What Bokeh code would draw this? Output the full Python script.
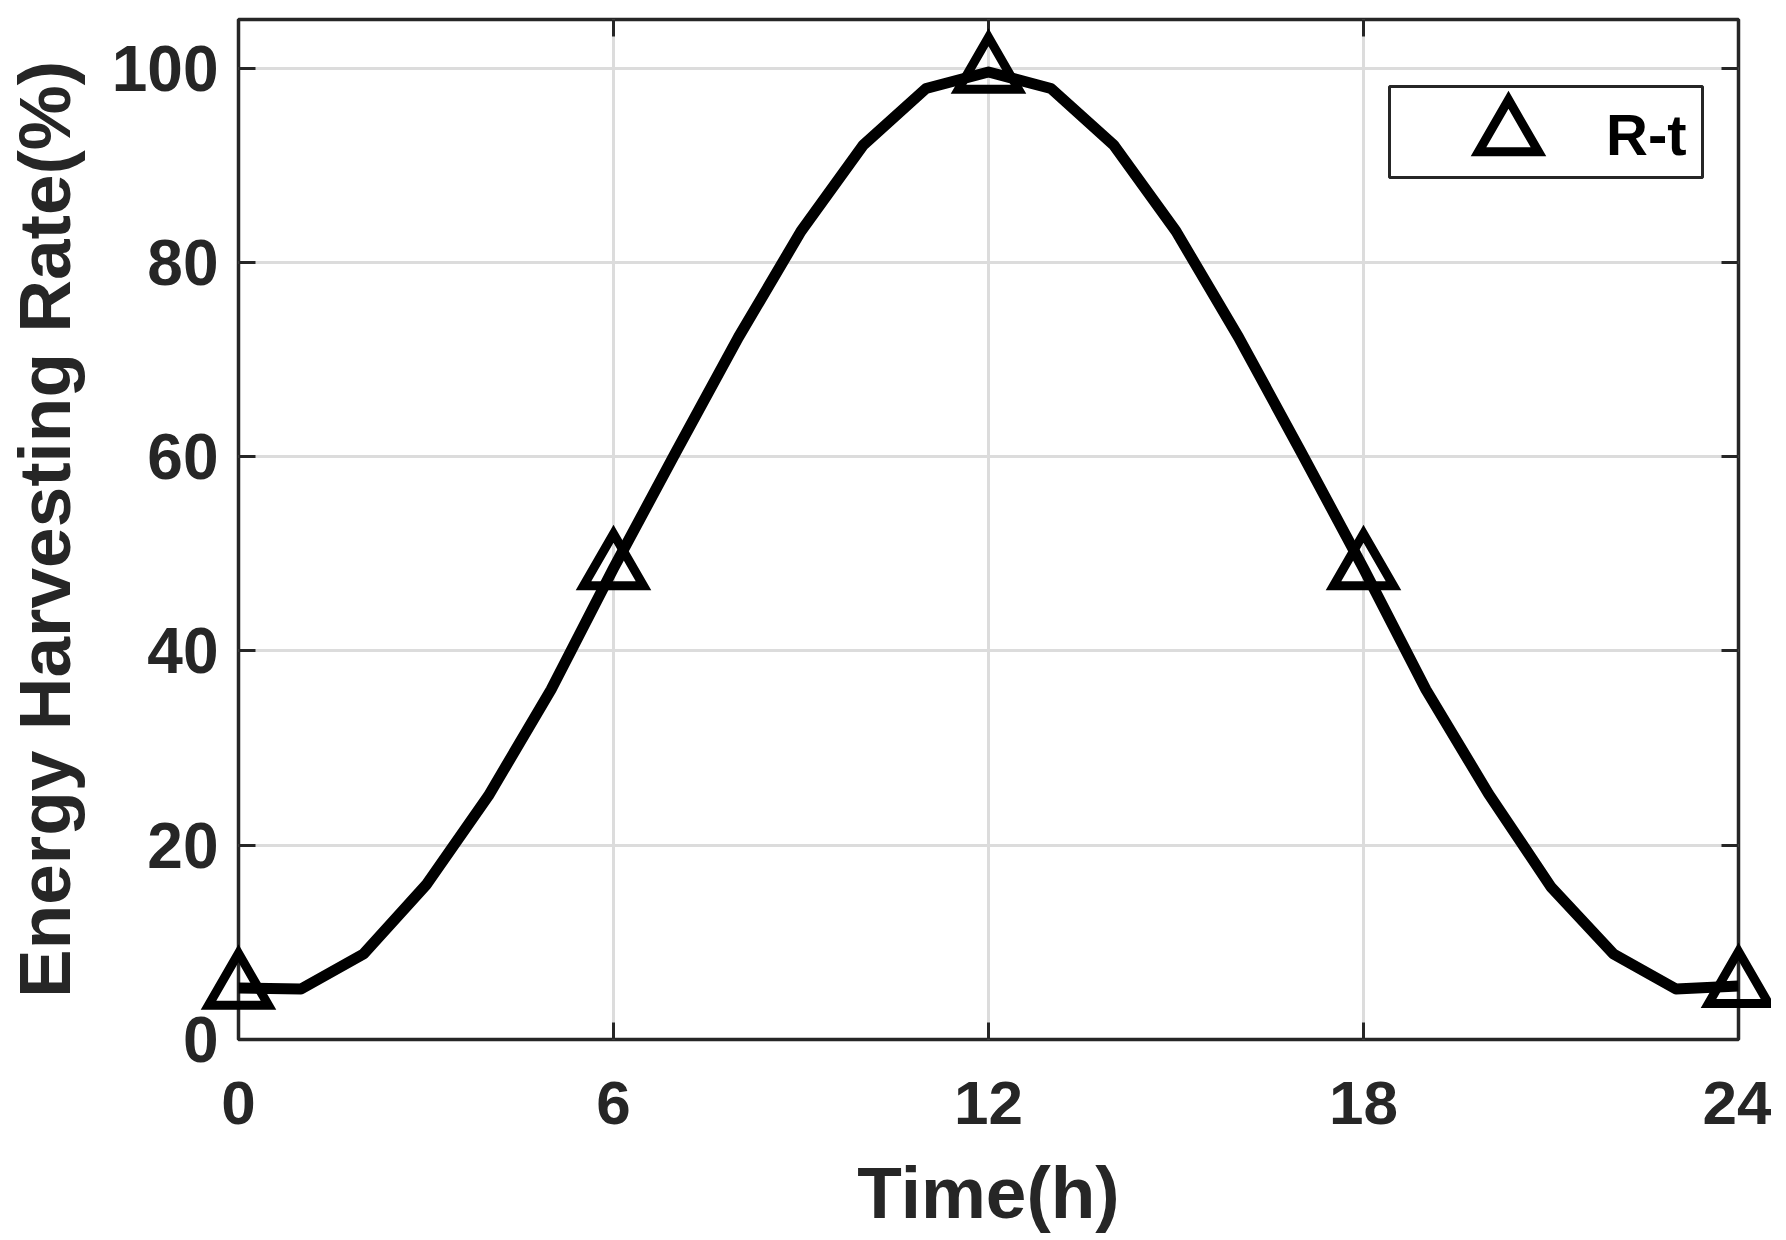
from bokeh.plotting import figure
from bokeh.models import (Range1d, FixedTicker, LinearAxis, Legend, LegendItem,
                          CustomJSTickFormatter, BoxAnnotation)
from bokeh.embed import file_html
from bokeh.resources import INLINE

# ---- data ----
hours = list(range(25))
rate = [5.3, 5.2, 8.8, 15.9, 25.1, 36.0, 48.5, 60.5, 72.3, 83.2, 92.1, 97.9, 99.6,
        97.9, 92.1, 83.2, 72.3, 60.5, 48.5, 36.0, 25.3, 15.7, 8.8, 5.2, 5.5]
marker_step = 6
x_ticks = [0, 6, 12, 18, 24]
y_ticks = [0, 20, 40, 60, 80, 100]
x_label = "Time(h)"
y_label = "Energy Harvesting Rate(%)"
series_name = "R-t"

mk_hours = hours[::marker_step]
mk_rate = rate[::marker_step]

FONT = "Liberation Sans"
DARK = "#262626"

p = figure(frame_width=1500, frame_height=1020,
           x_range=Range1d(0, 24), y_range=Range1d(0, 105),
           output_backend="svg", toolbar_location=None,
           min_border_left=237, min_border_right=33,
           min_border_top=19, min_border_bottom=180,
           background_fill_color="white", border_fill_color="white")

p.outline_line_color = DARK
p.outline_line_width = 3.5
p.outline_line_alpha = 1.0

xt = FixedTicker(ticks=x_ticks)
yt = FixedTicker(ticks=y_ticks)

p.xgrid.ticker = xt
p.ygrid.ticker = yt
for g in (p.xgrid[0], p.ygrid[0]):
    g.grid_line_color = "#dcdcdc"
    g.grid_line_width = 3

def style_axis(ax, ticker, tick_size):
    ax.ticker = ticker
    ax.axis_line_color = None
    ax.major_tick_in = 17
    ax.major_tick_out = 0
    ax.major_tick_line_width = 3
    ax.major_tick_line_color = DARK
    ax.minor_tick_line_color = None
    ax.major_label_text_font = FONT
    ax.major_label_text_font_style = "bold"
    ax.major_label_text_font_size = tick_size
    ax.major_label_text_color = DARK
    ax.axis_label_text_font = FONT
    ax.axis_label_text_font_style = "bold"
    ax.axis_label_text_font_size = "73px"
    ax.axis_label_text_color = DARK

xa = p.xaxis[0]
ya = p.yaxis[0]
style_axis(xa, xt, "62px")
style_axis(ya, yt, "64px")
xa.axis_label = x_label
ya.axis_label = y_label
xa.major_label_standoff = 42
xa.axis_label_standoff = 25
ya.major_label_standoff = 20
ya.axis_label_standoff = 24

for loc, tk in (("right", yt), ("above", xt)):
    ax = LinearAxis(ticker=tk, formatter=CustomJSTickFormatter(code="return ''"))
    ax.axis_line_color = None
    ax.major_tick_in = 17
    ax.major_tick_out = 0
    ax.major_tick_line_width = 3
    ax.major_tick_line_color = DARK
    ax.minor_tick_line_color = None
    ax.major_label_text_font_size = "1px"
    ax.major_label_standoff = 0
    p.add_layout(ax, loc)

p.line(hours, rate, line_color="black", line_width=11, line_join="round")
sc = p.scatter(mk_hours, mk_rate, marker="triangle", size=60,
               fill_color=None, line_color="black", line_width=9,
               line_join="miter", level="overlay")

# legend frame (screen units, relative to the plot frame)
legend_box = BoxAnnotation(left=1151, right=1464, bottom=862, top=953,
                           left_units="screen", right_units="screen",
                           bottom_units="screen", top_units="screen",
                           fill_color="white", fill_alpha=1.0,
                           line_color=DARK, line_width=3, line_alpha=1.0)
p.add_layout(legend_box)

legend = Legend(items=[LegendItem(label=series_name, renderers=[sc])],
                location=(1195, 830), padding=0, spacing=0, margin=0,
                glyph_width=150, glyph_height=150, label_standoff=23,
                label_text_font=FONT,
                label_text_font_style="bold", label_text_font_size="58px",
                label_text_color="black",
                border_line_color=None, background_fill_alpha=0.0)
p.add_layout(legend)

open("out.html", "w").write(file_html(p, INLINE))
